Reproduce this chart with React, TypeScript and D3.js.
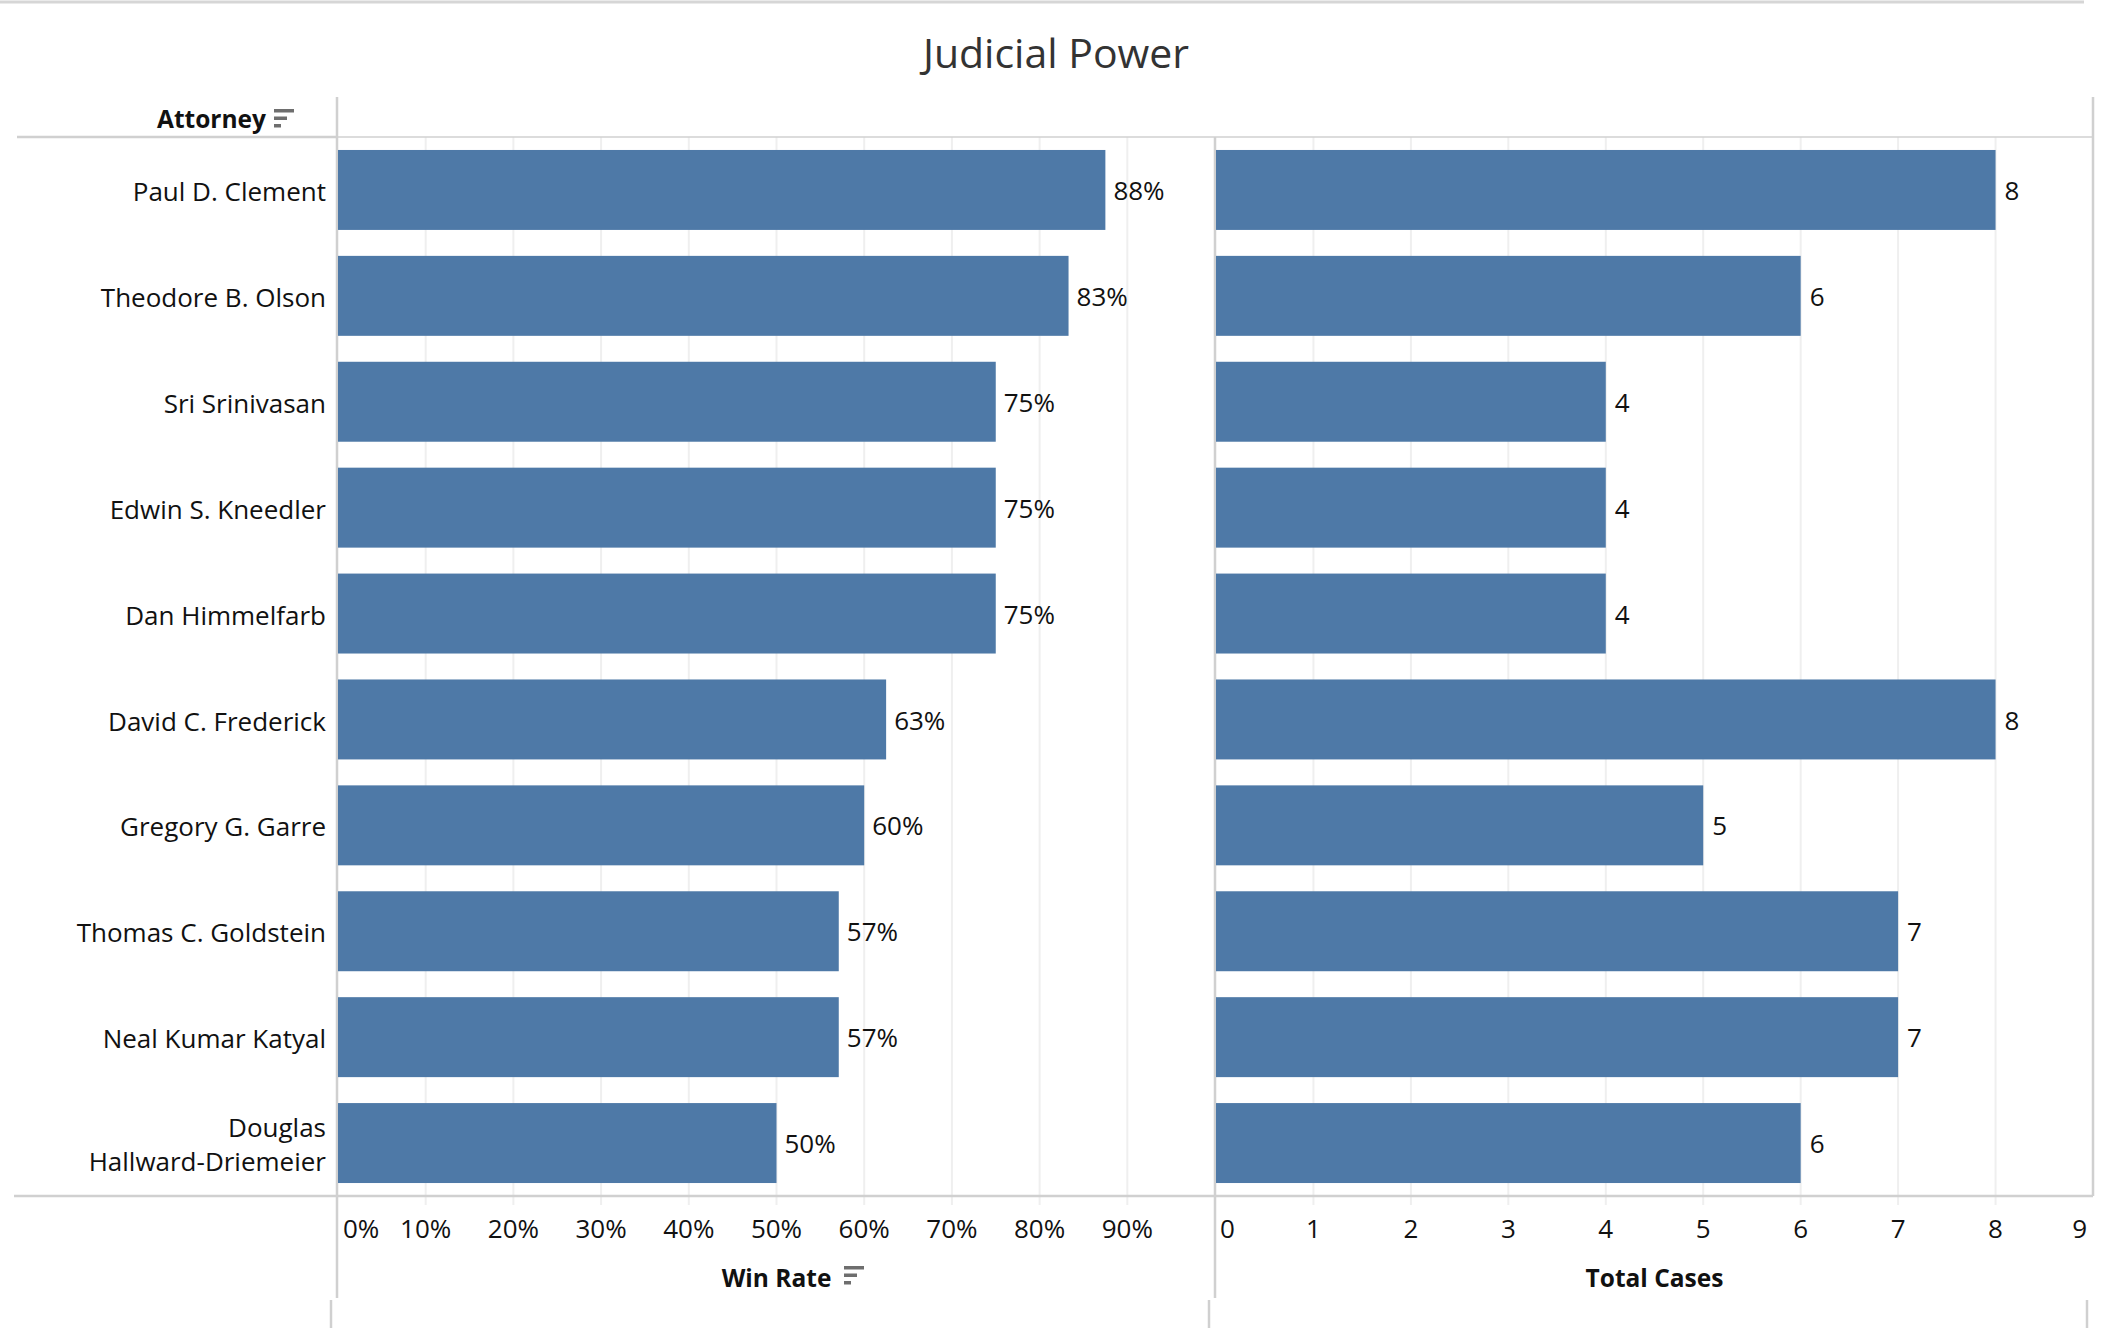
import React, { useEffect, useRef } from 'react';
import * as d3 from 'd3';

const attorneys = [
  'Paul D. Clement',
  'Theodore B. Olson',
  'Sri Srinivasan',
  'Edwin S. Kneedler',
  'Dan Himmelfarb',
  'David C. Frederick',
  'Gregory G. Garre',
  'Thomas C. Goldstein',
  'Neal Kumar Katyal',
  'Douglas\nHallward-Driemeier',
];
const winRates = [0.875, 0.833, 0.75, 0.75, 0.75, 0.625, 0.6, 0.571, 0.571, 0.5];
const totalCases = [8, 6, 4, 4, 4, 8, 5, 7, 7, 6];
const winRateTicks = [0, 0.1, 0.2, 0.3, 0.4, 0.5, 0.6, 0.7, 0.8, 0.9];
const caseTicks = [0, 1, 2, 3, 4, 5, 6, 7, 8, 9];

const W = 2106;
const H = 1336;
const FONT = '"Open Sans", "Noto Sans", sans-serif';
const BAR = '#4e79a7';
const LINE = '#d0d0d0';
const GRID = '#efefef';
const FS = 26;

const App: React.FC = () => {
  const ref = useRef<SVGSVGElement | null>(null);

  useEffect(() => {
    if (!ref.current) return;
    const svg = d3.select(ref.current);
    svg.selectAll('*').remove();

    const top = 137;
    const bottom = 1196;
    const left = { x0: 338, x1: 1215 };
    const right = { x0: 1216, x1: 2093 };

    const y = d3.scaleBand<string>()
      .domain(attorneys)
      .range([top, bottom])
      .paddingInner(0.245)
      .paddingOuter(0.1225);

    const xRate = d3.scaleLinear().domain([0, 1]).range([left.x0, left.x1]);
    const xCases = d3.scaleLinear().domain([0, 9]).range([right.x0, right.x1]);

    // title
    svg.append('text')
      .attr('x', 1056).attr('y', 68)
      .attr('text-anchor', 'middle')
      .attr('font-size', 41)
      .attr('fill', '#333')
      .text('Judicial Power');

    // frame lines
    const line = (x1: number, y1: number, x2: number, y2: number, w = 2, c = LINE) =>
      svg.append('line')
        .attr('x1', x1).attr('y1', y1).attr('x2', x2).attr('y2', y2)
        .attr('stroke', c).attr('stroke-width', w);

    line(0, 2, 2084, 2, 3, '#d6d6d6');

    // gridlines
    const grid = svg.append('g');
    grid.selectAll('line.r')
      .data(winRateTicks.slice(1))
      .join('line')
      .attr('x1', d => xRate(d)).attr('x2', d => xRate(d))
      .attr('y1', top).attr('y2', bottom + 9)
      .attr('stroke', GRID).attr('stroke-width', 2);
    grid.selectAll('line.c')
      .data(caseTicks.slice(1, -1))
      .join('line')
      .attr('x1', d => xCases(d)).attr('x2', d => xCases(d))
      .attr('y1', top).attr('y2', bottom + 9)
      .attr('stroke', GRID).attr('stroke-width', 2);

    line(17, top, left.x0, top, 2.5);
    line(left.x0, top, right.x1, top, 1.5);
    line(14, bottom, right.x1, bottom, 2.5);
    line(left.x0 - 1, 97, left.x0 - 1, 1298, 2.5);
    line(right.x0 - 1, top, right.x0 - 1, 1298, 2.5);
    line(right.x1, 97, right.x1, bottom, 2.5);
    line(331, 1300, 331, 1328, 2.5);
    line(1209, 1300, 1209, 1328, 2.5);
    line(2087, 1300, 2087, 1328, 2.5);

    // sort icon
    const sortIcon = (x: number, yTop: number) => {
      const g = svg.append('g').attr('fill', '#6e6e6e');
      [20, 13, 7].forEach((w, i) => {
        g.append('rect').attr('x', x).attr('y', yTop + i * 7.5).attr('width', w).attr('height', 3.5);
      });
    };

    // header
    svg.append('text')
      .attr('x', 266).attr('y', 128)
      .attr('text-anchor', 'end')
      .attr('font-size', 24.5).attr('font-weight', 700)
      .attr('fill', '#111')
      .text('Attorney');
    sortIcon(274, 109);

    // row labels
    const labels = svg.append('g')
      .attr('font-size', FS)
      .attr('fill', '#111')
      .attr('text-anchor', 'end');
    attorneys.forEach(name => {
      const parts = name.split('\n');
      const cy = (y(name) as number) + y.bandwidth() / 2 + 2;
      parts.forEach((p, i) => {
        labels.append('text')
          .attr('x', 326)
          .attr('y', cy + (i - (parts.length - 1) / 2) * 34)
          .attr('dy', '0.35em')
          .text(p);
      });
    });

    // win rate bars
    const rows = attorneys.map((a, i) => ({ a, rate: winRates[i], cases: totalCases[i] }));
    svg.append('g').selectAll('rect')
      .data(rows)
      .join('rect')
      .attr('x', xRate(0))
      .attr('y', d => y(d.a) as number)
      .attr('width', d => xRate(d.rate) - xRate(0))
      .attr('height', y.bandwidth())
      .attr('fill', BAR);
    svg.append('g').selectAll('text')
      .data(rows)
      .join('text')
      .attr('x', d => xRate(d.rate) + 8)
      .attr('y', d => (y(d.a) as number) + y.bandwidth() / 2 + 1)
      .attr('dy', '0.35em')
      .attr('font-size', FS)
      .attr('fill', '#111')
      .text(d => d3.format('.0%')(d.rate));

    // total cases bars
    svg.append('g').selectAll('rect')
      .data(rows)
      .join('rect')
      .attr('x', xCases(0))
      .attr('y', d => y(d.a) as number)
      .attr('width', d => xCases(d.cases) - xCases(0))
      .attr('height', y.bandwidth())
      .attr('fill', BAR);
    svg.append('g').selectAll('text')
      .data(rows)
      .join('text')
      .attr('x', d => xCases(d.cases) + 9)
      .attr('y', d => (y(d.a) as number) + y.bandwidth() / 2 + 1)
      .attr('dy', '0.35em')
      .attr('font-size', FS)
      .attr('fill', '#111')
      .text(d => String(d.cases));

    // axis tick labels
    const tickY = 1238;
    svg.append('g').selectAll('text')
      .data(winRateTicks)
      .join('text')
      .attr('x', (d, i) => (i === 0 ? xRate(d) + 5 : xRate(d)))
      .attr('y', tickY)
      .attr('text-anchor', (d, i) => (i === 0 ? 'start' : 'middle'))
      .attr('font-size', FS)
      .attr('fill', '#111')
      .text(d => d3.format('.0%')(d));
    svg.append('g').selectAll('text')
      .data(caseTicks)
      .join('text')
      .attr('x', (d, i) => (i === 0 ? xCases(d) + 4 : i === caseTicks.length - 1 ? xCases(d) - 6 : xCases(d)))
      .attr('y', tickY)
      .attr('text-anchor', (d, i) => (i === 0 ? 'start' : i === caseTicks.length - 1 ? 'end' : 'middle'))
      .attr('font-size', FS)
      .attr('fill', '#111')
      .text(d => String(d));

    // axis titles
    svg.append('text')
      .attr('x', (left.x0 + left.x1) / 2).attr('y', 1287)
      .attr('text-anchor', 'middle')
      .attr('font-size', 24.5).attr('font-weight', 700)
      .attr('fill', '#111')
      .text('Win Rate');
    sortIcon(844, 1266);
    svg.append('text')
      .attr('x', (right.x0 + right.x1) / 2).attr('y', 1287)
      .attr('text-anchor', 'middle')
      .attr('font-size', 24.5).attr('font-weight', 700)
      .attr('fill', '#111')
      .text('Total Cases');
  }, []);

  return (
    <svg
      ref={ref}
      width={W}
      height={H}
      style={{ position: 'absolute', left: 0, top: 0, background: '#fff', fontFamily: FONT }}
    />
  );
};

export default App;
